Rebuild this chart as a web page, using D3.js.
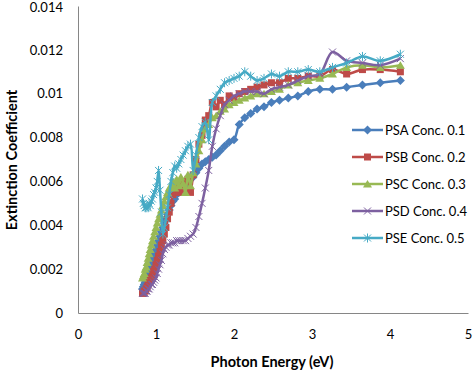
<!DOCTYPE html>
<html>
<head>
<meta charset="utf-8">
<script src="https://cdn.jsdelivr.net/npm/d3@7"></script>
<style>
    body { margin: 0; background: #fff; }
    text { font-family: Lato, "Open Sans", sans-serif; fill: #000; }
</style>
</head>
<body>
<div id="chart"></div>
<script>

// photon energy (eV) of every measured point, shared by all samples
let energies = [
    0.827, 0.838, 0.849, 0.861, 0.873, 0.886, 0.899, 0.912, 0.925, 0.939,
    0.954, 0.969, 0.984, 1.000, 1.016, 1.033, 1.051, 1.069, 1.088, 1.107,
    1.127, 1.148, 1.170, 1.192, 1.216, 1.240, 1.265, 1.292, 1.319, 1.348,
    1.378, 1.409, 1.442, 1.476, 1.512, 1.550, 1.590, 1.632, 1.676, 1.722,
    1.771, 1.824, 1.879, 1.938, 2.000, 2.067, 2.138, 2.214, 2.296, 2.385,
    2.480, 2.583, 2.696, 2.818, 2.952, 3.100, 3.263, 3.444, 3.647, 3.875, 4.133
];

// extinction coefficient per sample
let psaValues = [
    0.0011, 0.0012, 0.0013, 0.0014, 0.0015, 0.0016, 0.0018, 0.0019, 0.0021, 0.0022,
    0.0024, 0.0025, 0.0027, 0.0029, 0.0031, 0.0033, 0.0035, 0.0037, 0.0039, 0.0041,
    0.0043, 0.0045, 0.0047, 0.0049, 0.0051, 0.0052, 0.0054, 0.0055, 0.0056, 0.0057,
    0.0058, 0.0059, 0.0061, 0.0062, 0.0064, 0.0066, 0.0068, 0.0069, 0.0070, 0.0071,
    0.0072, 0.0074, 0.0076, 0.0078, 0.0079, 0.0086, 0.0089, 0.0091, 0.0093, 0.0094,
    0.0096, 0.0097, 0.0098, 0.0099, 0.0101, 0.0102, 0.0102, 0.0103, 0.0104, 0.0105, 0.0106
];
let psbValues = [
    0.0009, 0.0009, 0.0010, 0.0010, 0.0011, 0.0012, 0.0013, 0.0014, 0.0015, 0.0016,
    0.0017, 0.0019, 0.0020, 0.0022, 0.0024, 0.0026, 0.0028, 0.0031, 0.0033, 0.0036,
    0.0039, 0.0043, 0.0046, 0.0050, 0.0054, 0.0057, 0.0058, 0.0055, 0.0059, 0.0056,
    0.0060, 0.0061, 0.0055, 0.0063, 0.0070, 0.0077, 0.0081, 0.0088, 0.0090, 0.0096,
    0.0094, 0.0097, 0.0095, 0.0099, 0.0098, 0.0100, 0.0101, 0.0102, 0.0103, 0.0104,
    0.0105, 0.0105, 0.0107, 0.0107, 0.0108, 0.0108, 0.0111, 0.0109, 0.0111, 0.0111, 0.0110
];
let pscValues = [
    0.0016, 0.0017, 0.0018, 0.0020, 0.0021, 0.0023, 0.0025, 0.0027, 0.0029, 0.0031,
    0.0033, 0.0035, 0.0037, 0.0039, 0.0041, 0.0043, 0.0045, 0.0047, 0.0049, 0.0051,
    0.0053, 0.0055, 0.0057, 0.0058, 0.0060, 0.0057, 0.0061, 0.0058, 0.0062, 0.0059,
    0.0055, 0.0063, 0.0058, 0.0064, 0.0068, 0.0074, 0.0079, 0.0084, 0.0086, 0.0089,
    0.0090, 0.0092, 0.0093, 0.0095, 0.0096, 0.0097, 0.0098, 0.0099, 0.0100, 0.0100,
    0.0101, 0.0102, 0.0104, 0.0105, 0.0106, 0.0107, 0.0109, 0.0112, 0.0113, 0.0112, 0.0113
];
let psdValues = [
    0.0009, 0.0009, 0.0009, 0.0009, 0.0010, 0.0010, 0.0011, 0.0011, 0.0012, 0.0013,
    0.0013, 0.0014, 0.0015, 0.0016, 0.0018, 0.0020, 0.0022, 0.0024, 0.0027, 0.0029,
    0.0030, 0.0031, 0.0031, 0.0032, 0.0032, 0.0032, 0.0033, 0.0033, 0.0033, 0.0033,
    0.0033, 0.0034, 0.0035, 0.0036, 0.0039, 0.0044, 0.0050, 0.0057, 0.0065, 0.0076,
    0.0084, 0.0090, 0.0095, 0.0097, 0.0099, 0.0100, 0.0101, 0.0101, 0.0101, 0.0100,
    0.0102, 0.0103, 0.0104, 0.0106, 0.0108, 0.0109, 0.0119, 0.0115, 0.0114, 0.0113, 0.0116
];
let pseValues = [
    0.0052, 0.0050, 0.0049, 0.0048, 0.0048, 0.0049, 0.0048, 0.0050, 0.0049, 0.0051,
    0.0052, 0.0054, 0.0055, 0.0057, 0.0060, 0.0065, 0.0056, 0.0046, 0.0036, 0.0039,
    0.0043, 0.0048, 0.0054, 0.0060, 0.0064, 0.0067, 0.0066, 0.0068, 0.0070, 0.0072,
    0.0074, 0.0076, 0.0077, 0.0065, 0.0072, 0.0080, 0.0085, 0.0087, 0.0079, 0.0096,
    0.0099, 0.0102, 0.0105, 0.0106, 0.0107, 0.0108, 0.0110, 0.0108, 0.0106, 0.0107,
    0.0109, 0.0108, 0.0110, 0.0110, 0.0111, 0.0110, 0.0112, 0.0114, 0.0117, 0.0115, 0.0118
];

let seriesNames = ["PSA Conc. 0.1", "PSB Conc. 0.2", "PSC Conc. 0.3", "PSD Conc. 0.4", "PSE Conc. 0.5"];
let seriesValues = [psaValues, psbValues, pscValues, psdValues, pseValues];
let seriesColors = ["#4A7EBB", "#BE4B48", "#98B954", "#7D60A0", "#46AAC5"];
let seriesMarkers = ["diamond", "square", "triangle", "cross", "star"];

let xTicks = [0, 1, 2, 3, 4, 5];
let yTicks = [0, 0.002, 0.004, 0.006, 0.008, 0.01, 0.012, 0.014];

let xTitle = "Photon Energy (eV)";
let yTitle = "Extinction Coefficient";


class ExtinctionChart {

    constructor(parentElement) {
        this.parentElement = parentElement;
        this.initVis();
    }

    initVis() {
        let vis = this;

        vis.margin = {top: 6, right: 6, bottom: 59, left: 78};
        vis.width = 474 - vis.margin.left - vis.margin.right;
        vis.height = 372 - vis.margin.top - vis.margin.bottom;

        vis.svg = d3.select("#" + vis.parentElement).append("svg")
            .attr("width", 474)
            .attr("height", 372);

        vis.chart = vis.svg.append("g")
            .attr("transform", `translate(${vis.margin.left}, ${vis.margin.top})`);

        // scales
        vis.x = d3.scaleLinear()
            .domain([0, 5])
            .range([0, 390]);
        vis.y = d3.scaleLinear()
            .domain([0, 0.014])
            .range([vis.height, 0]);

        // axes, no tick marks like the original
        let xAxis = d3.axisBottom(vis.x)
            .tickValues(xTicks)
            .tickSize(0)
            .tickPadding(17)
            .tickFormat(d3.format("d"));
        let yAxis = d3.axisLeft(vis.y)
            .tickValues(yTicks)
            .tickSize(0)
            .tickPadding(15)
            .tickFormat(d => d === 0 ? "0" : String(+d.toFixed(3)));

        vis.chart.append("g")
            .attr("class", "x-axis")
            .attr("transform", `translate(0, ${vis.height})`)
            .call(xAxis);
        vis.chart.append("g")
            .attr("class", "y-axis")
            .call(yAxis);

        vis.chart.selectAll(".domain")
            .attr("stroke", "#868686")
            .attr("stroke-width", 1);
        vis.chart.selectAll(".tick text")
            .attr("font-size", 13)
            .attr("font-family", "Lato, sans-serif")
            .attr("fill", "#222");
        // keep the top label inside the picture
        vis.chart.select(".y-axis .tick:last-of-type text")
            .attr("dy", "0.45em");

        // axis titles
        vis.svg.append("text")
            .attr("x", vis.margin.left + vis.x(2.5) - 1)
            .attr("y", 367)
            .attr("text-anchor", "middle")
            .attr("font-size", 14.5)
            .attr("font-weight", "bold")
            .text(xTitle);
        vis.svg.append("text")
            .attr("transform", `translate(17, 160) rotate(-90)`)
            .attr("text-anchor", "middle")
            .attr("font-size", 14.5)
            .attr("font-weight", "bold")
            .text(yTitle);

        vis.line = d3.line()
            .x(d => vis.x(d.energy))
            .y(d => vis.y(d.value))
            .curve(d3.curveCatmullRom);

        vis.wrangleData();
    }

    wrangleData() {
        let vis = this;

        vis.displayData = seriesNames.map((name, i) => ({
            name: name,
            color: seriesColors[i],
            marker: seriesMarkers[i],
            points: energies.map((e, j) => ({energy: e, value: seriesValues[i][j]}))
        }));

        vis.updateVis();
    }

    // draws one marker of the given type centred on (0,0)
    drawMarker(sel, type, color) {
        if (type === "diamond") {
            sel.append("path").attr("d", "M0,-4.5L4.5,0L0,4.5L-4.5,0Z").attr("fill", color);
        } else if (type === "square") {
            sel.append("rect").attr("x", -3.5).attr("y", -3.5).attr("width", 7).attr("height", 7).attr("fill", color);
        } else if (type === "triangle") {
            sel.append("path").attr("d", "M0,-4L4.5,3.5L-4.5,3.5Z").attr("fill", color);
        } else if (type === "cross") {
            sel.append("path").attr("d", "M-3.5,-3.5L3.5,3.5M-3.5,3.5L3.5,-3.5")
                .attr("stroke", color).attr("stroke-width", 1).attr("fill", "none");
        } else {
            sel.append("path").attr("d", "M-3.5,-3.5L3.5,3.5M-3.5,3.5L3.5,-3.5M0,-4.5L0,4.5")
                .attr("stroke", color).attr("stroke-width", 1).attr("fill", "none");
        }
    }

    updateVis() {
        let vis = this;

        let series = vis.chart.selectAll(".series")
            .data(vis.displayData)
            .enter().append("g")
            .attr("class", "series");

        series.append("path")
            .attr("d", d => vis.line(d.points))
            .attr("fill", "none")
            .attr("stroke", d => d.color)
            .attr("stroke-width", 2.5)
            .attr("stroke-linejoin", "round");

        series.each(function(s) {
            d3.select(this).selectAll(".marker")
                .data(s.points)
                .enter().append("g")
                .attr("class", "marker")
                .attr("transform", d => `translate(${vis.x(d.energy)}, ${vis.y(d.value)})`)
                .each(function() {
                    vis.drawMarker(d3.select(this), s.marker, s.color);
                });
        });

        // legend
        let legend = vis.svg.append("g")
            .attr("transform", "translate(352, 130)");

        let rows = legend.selectAll(".legend-row")
            .data(vis.displayData)
            .enter().append("g")
            .attr("class", "legend-row")
            .attr("transform", (d, i) => `translate(0, ${i * 27})`);

        rows.append("line")
            .attr("x1", 0)
            .attr("x2", 31)
            .attr("stroke", d => d.color)
            .attr("stroke-width", 2.5);
        rows.each(function(d) {
            let m = d3.select(this).append("g").attr("transform", "translate(15.5, 0)");
            vis.drawMarker(m, d.marker, d.color);
        });
        rows.append("text")
            .attr("x", 33)
            .attr("dy", "0.35em")
            .attr("font-size", 13)
            .text(d => d.name);
    }
}

new ExtinctionChart("chart");

</script>
</body>
</html>
